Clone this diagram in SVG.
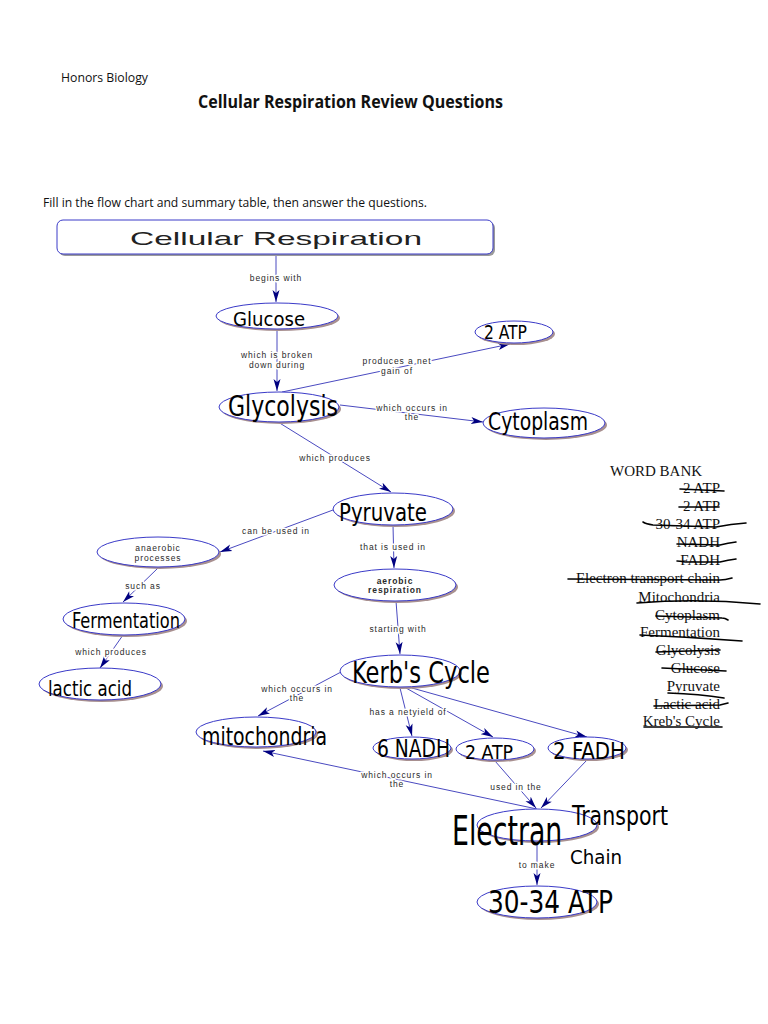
<svg xmlns="http://www.w3.org/2000/svg" width="768" height="1024" viewBox="0 0 768 1024">
<style>
.hdr{font-family:"Open Sans","Liberation Sans",sans-serif;fill:#111}
.node{fill:#fff;stroke:#3a3ac8;stroke-width:1}
.shd{fill:#a89090}
.hw{font-family:"DejaVu Sans Condensed","Liberation Sans",sans-serif;fill:#000}
.lbl{font-family:"Liberation Sans",Arial,sans-serif;font-size:8.5px;letter-spacing:0.9px;fill:#2a2a2a;text-anchor:middle;stroke:#fff;stroke-width:3px;paint-order:stroke;stroke-linejoin:round}
.conn{stroke:#4a4ac0;stroke-width:1;fill:none}
.wb{font-family:"Liberation Serif","Times New Roman",serif;font-size:15px;fill:#111}
.strike{stroke:#000;stroke-width:1.6;fill:none;stroke-linecap:round}
</style>
<defs>
<marker id="ah" markerUnits="userSpaceOnUse" markerWidth="14" markerHeight="8" refX="12" refY="4" orient="auto">
<path d="M0,0.5 L12,4 L0,7.5 L3,4 z" fill="#000080"/>
</marker>
</defs>
<rect width="768" height="1024" fill="#fff"/>

<g id="header">
<text class="hdr" x="61" y="82" font-size="13" textLength="87" lengthAdjust="spacingAndGlyphs">Honors Biology</text>
<text class="hdr" x="198" y="108" font-size="18" font-weight="bold" textLength="305" lengthAdjust="spacingAndGlyphs">Cellular Respiration Review Questions</text>
<text class="hdr" x="43" y="207" font-size="12.5" textLength="384" lengthAdjust="spacingAndGlyphs">Fill in the flow chart and summary table, then answer the questions.</text>
</g>

<g id="connectors">
<line class="conn" x1="276" y1="255" x2="276" y2="302" marker-end="url(#ah)"/>
<line class="conn" x1="277" y1="329" x2="277" y2="391" marker-end="url(#ah)"/>
<line class="conn" x1="282" y1="392" x2="510" y2="344" marker-end="url(#ah)"/>
<line class="conn" x1="340" y1="405" x2="483" y2="422" marker-end="url(#ah)"/>
<line class="conn" x1="278" y1="422" x2="391" y2="492" marker-end="url(#ah)"/>
<line class="conn" x1="333" y1="510" x2="220" y2="552" marker-end="url(#ah)"/>
<line class="conn" x1="393" y1="525" x2="394" y2="568" marker-end="url(#ah)"/>
<line class="conn" x1="158" y1="568" x2="123" y2="602" marker-end="url(#ah)"/>
<line class="conn" x1="123" y1="635" x2="100" y2="668" marker-end="url(#ah)"/>
<line class="conn" x1="396" y1="601" x2="400" y2="654" marker-end="url(#ah)"/>
<line class="conn" x1="341" y1="672" x2="258" y2="716" marker-end="url(#ah)"/>
<line class="conn" x1="400" y1="688" x2="412" y2="736" marker-end="url(#ah)"/>
<line class="conn" x1="406" y1="688" x2="493" y2="737" marker-end="url(#ah)"/>
<line class="conn" x1="412" y1="688" x2="587" y2="737" marker-end="url(#ah)"/>
<line class="conn" x1="537" y1="809" x2="263" y2="751" marker-end="url(#ah)"/>
<line class="conn" x1="495" y1="761" x2="536" y2="808" marker-end="url(#ah)"/>
<line class="conn" x1="587" y1="760" x2="541" y2="808" marker-end="url(#ah)"/>
<line class="conn" x1="537" y1="841" x2="537" y2="885" marker-end="url(#ah)"/>
<text class="lbl" x="276" y="281">begins with</text>
<text class="lbl" x="277" y="358">which is broken</text>
<text class="lbl" x="277" y="368">down during</text>
<text class="lbl" x="397" y="364">produces a net</text>
<text class="lbl" x="397" y="374">gain of</text>
<text class="lbl" x="412" y="411">which occurs in</text>
<text class="lbl" x="412" y="420">the</text>
<text class="lbl" x="335" y="461">which produces</text>
<text class="lbl" x="276" y="534">can be used in</text>
<text class="lbl" x="393" y="550">that is used in</text>
<text class="lbl" x="143" y="589">such as</text>
<text class="lbl" x="111" y="655">which produces</text>
<text class="lbl" x="398" y="632">starting with</text>
<text class="lbl" x="297" y="692">which occurs in</text>
<text class="lbl" x="297" y="701">the</text>
<text class="lbl" x="408" y="715">has a netyield of</text>
<text class="lbl" x="397" y="778">which occurs in</text>
<text class="lbl" x="397" y="787">the</text>
<text class="lbl" x="516" y="790">used in the</text>
<text class="lbl" x="537" y="868">to make</text>
</g>

<g id="title">
<rect x="59" y="222" width="436" height="34" rx="6" fill="#9a9a9a"/>
<rect x="57" y="220" width="436" height="34" rx="6" class="node"/>
<text x="130" y="245" font-family="Liberation Sans,Arial,sans-serif" font-size="19" fill="#222" textLength="292" lengthAdjust="spacingAndGlyphs">Cellular Respiration</text>
</g>

<g id="glucose">
<ellipse class="shd" cx="279" cy="318" rx="61" ry="13"/>
<ellipse class="node" cx="277" cy="316" rx="61" ry="13"/>
<text class="hw" x="233" y="326" font-size="20" textLength="72" lengthAdjust="spacingAndGlyphs">Glucose</text>
</g>

<g id="atp2-top">
<ellipse class="shd" cx="516" cy="334" rx="39" ry="11"/>
<ellipse class="node" cx="514" cy="332" rx="39" ry="11"/>
<text class="hw" x="484" y="339" font-size="20" textLength="43" lengthAdjust="spacingAndGlyphs">2 ATP</text>
</g>

<g id="glycolysis">
<ellipse class="shd" cx="281" cy="409" rx="60" ry="15"/>
<ellipse class="node" cx="279" cy="407" rx="60" ry="15"/>
<text class="hw" x="228" y="416" font-size="28" textLength="110" lengthAdjust="spacingAndGlyphs">Glycolysis</text>
</g>

<g id="cytoplasm">
<ellipse class="shd" cx="546" cy="425" rx="61" ry="15"/>
<ellipse class="node" cx="544" cy="423" rx="61" ry="15"/>
<text class="hw" x="488" y="430" font-size="24" textLength="100" lengthAdjust="spacingAndGlyphs">Cytoplasm</text>
</g>

<g id="pyruvate">
<ellipse class="shd" cx="395" cy="511" rx="60" ry="16"/>
<ellipse class="node" cx="393" cy="509" rx="60" ry="16"/>
<text class="hw" x="339" y="521" font-size="25" textLength="88" lengthAdjust="spacingAndGlyphs">Pyruvate</text>
</g>

<g id="anaerobic">
<ellipse class="shd" cx="160" cy="554" rx="61" ry="15"/>
<ellipse class="node" cx="158" cy="552" rx="61" ry="15"/>
<text class="lbl" x="158" y="551" stroke="none">anaerobic</text>
<text class="lbl" x="158" y="561" stroke="none">processes</text>
</g>

<g id="aerobic">
<ellipse class="shd" cx="397" cy="587" rx="61" ry="16"/>
<ellipse class="node" cx="395" cy="585" rx="61" ry="16"/>
<text class="lbl" x="395" y="584" stroke="none" font-weight="bold" fill="#111">aerobic</text>
<text class="lbl" x="395" y="593" stroke="none" font-weight="bold" fill="#111">respiration</text>
</g>

<g id="fermentation">
<ellipse class="shd" cx="126" cy="621" rx="61" ry="16"/>
<ellipse class="node" cx="124" cy="619" rx="61" ry="16"/>
<text class="hw" x="72" y="628" font-size="22" textLength="108" lengthAdjust="spacingAndGlyphs">Fermentation</text>
</g>

<g id="lactic-acid">
<ellipse class="shd" cx="102" cy="686" rx="61" ry="16"/>
<ellipse class="node" cx="100" cy="684" rx="61" ry="16"/>
<text class="hw" x="48" y="696" font-size="22" textLength="84" lengthAdjust="spacingAndGlyphs">lactic acid</text>
</g>

<g id="krebs">
<ellipse class="shd" cx="402" cy="673" rx="60" ry="16"/>
<ellipse class="node" cx="400" cy="671" rx="60" ry="16"/>
<text class="hw" x="352" y="683" font-size="30" textLength="138" lengthAdjust="spacingAndGlyphs">Kerb's Cycle</text>
</g>

<g id="mitochondria">
<ellipse class="shd" cx="258" cy="734" rx="60" ry="15"/>
<ellipse class="node" cx="256" cy="732" rx="60" ry="15"/>
<text class="hw" x="202" y="745" font-size="25" textLength="125" lengthAdjust="spacingAndGlyphs">mitochondria</text>
</g>

<g id="nadh">
<ellipse class="shd" cx="414" cy="750" rx="39" ry="11"/>
<ellipse class="node" cx="412" cy="748" rx="39" ry="11"/>
<text class="hw" x="377" y="757" font-size="24" textLength="73" lengthAdjust="spacingAndGlyphs">6 NADH</text>
</g>

<g id="atp2">
<ellipse class="shd" cx="497" cy="751" rx="39" ry="11"/>
<ellipse class="node" cx="495" cy="749" rx="39" ry="11"/>
<text class="hw" x="465" y="759" font-size="20" textLength="48" lengthAdjust="spacingAndGlyphs">2 ATP</text>
</g>

<g id="fadh">
<ellipse class="shd" cx="589" cy="750" rx="39" ry="11"/>
<ellipse class="node" cx="587" cy="748" rx="39" ry="11"/>
<text class="hw" x="553" y="759" font-size="23" textLength="72" lengthAdjust="spacingAndGlyphs">2 FADH</text>
</g>

<g id="etc">
<ellipse class="shd" cx="539" cy="827" rx="60" ry="16"/>
<ellipse class="node" cx="537" cy="825" rx="60" ry="16"/>
<text class="hw" transform="translate(452,845) scale(0.74,1)" font-size="40" textLength="149" lengthAdjust="spacingAndGlyphs">Electran</text>
<text class="hw" transform="translate(572,825) scale(0.82,1)" font-size="27" textLength="117" lengthAdjust="spacingAndGlyphs">Transport</text>
<text class="hw" x="570" y="864" font-size="20" textLength="52" lengthAdjust="spacingAndGlyphs">Chain</text>
</g>

<g id="atp30">
<ellipse class="shd" cx="539" cy="904" rx="60" ry="16"/>
<ellipse class="node" cx="537" cy="902" rx="60" ry="16"/>
<text class="hw" x="488" y="913" font-size="32" textLength="125" lengthAdjust="spacingAndGlyphs">30-34 ATP</text>
</g>

<g id="word-bank">
<text class="wb" x="610" y="476">WORD BANK</text>
<g text-anchor="end">
<text class="wb" x="720" y="493">2 ATP</text>
<text class="wb" x="720" y="511">2 ATP</text>
<text class="wb" x="720" y="529">30-34 ATP</text>
<text class="wb" x="720" y="547">NADH</text>
<text class="wb" x="720" y="565">FADH</text>
<text class="wb" x="720" y="583">Electron transport chain</text>
<text class="wb" x="720" y="602">Mitochondria</text>
<text class="wb" x="720" y="620">Cytoplasm</text>
<text class="wb" x="720" y="637">Fermentation</text>
<text class="wb" x="720" y="655">Glycolysis</text>
<text class="wb" x="720" y="673">Glucose</text>
<text class="wb" x="720" y="691">Pyruvate</text>
<text class="wb" x="720" y="709">Lactic acid</text>
<text class="wb" x="720" y="726">Kreb's Cycle</text>
</g>
<path class="strike" d="M680,489 L724,491"/>
<path class="strike" d="M679,507 L719,507"/>
<path class="strike" d="M643,522 q3,2 10,3 L716,527 q15,-3 30,-4"/>
<path class="strike" d="M677,544 L720,545 q8,-2 16,-3"/>
<path class="strike" d="M677,561 q2,0 8,1 L720,562 q8,-2 16,-3"/>
<path class="strike" d="M568,579 L720,580 q5,0 12,-2"/>
<path class="strike" d="M637,603 q60,-5 123,1"/>
<path class="strike" d="M656,616 L722,618 q3,0 6,2"/>
<path class="strike" d="M640,635 Q690,637 742,641"/>
<path class="strike" d="M656,652 L720,650"/>
<path class="strike" d="M662,668 L726,671"/>
<path class="strike" d="M668,693 Q700,694 724,698"/>
<path class="strike" d="M654,706 L720,705 L728,703"/>
<path class="strike" d="M644,727 L722,727"/>
</g>
</svg>
